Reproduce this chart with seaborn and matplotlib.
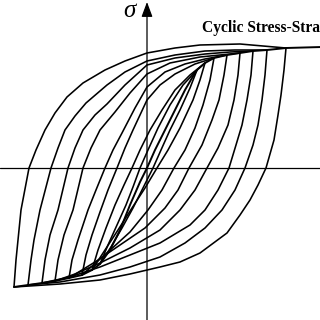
import matplotlib
matplotlib.use("Agg")
import matplotlib.pyplot as plt
import seaborn as sns
import pandas as pd

# ---- data (strain x, stress y), origin at axis crossing ----
L1_up_x = [-133, -131, -129, -126, -118, -111, -102, -92, -80, -64, -42, -22, 0, 28, 53, 93, 139]
L1_up_y = [-119, -92, -72, -42, 0, 18, 38, 55, 71, 85, 98, 107, 115, 120, 123, 124, 120]
L1_dn_x = [139, 137, 134, 131, 127, 119, 111, 103, 93, 80, 53, 33, 13, -17, -47, -87, -133]
L1_dn_y = [120, 98, 73, 53, 28, 0, -17, -32, -47, -65, -85, -94, -99, -106, -112, -116, -119]

L2_up_x = [-119, -116, -113, -107, -96, -89, -82, -72, -61, -40, -22, 0, 28, 58, 88, 120]
L2_up_y = [-117, -92, -72, -42, 0, 20, 38, 52, 65, 83, 96, 107, 113, 117, 118, 118]
L2_dn_x = [120, 118, 115, 111, 106, 98, 88, 75, 58, 38, 13, -17, -47, -87, -119]
L2_dn_y = [118, 93, 68, 43, 23, 0, -22, -42, -60, -75, -89, -99, -107, -114, -117]

L3_up_x = [-105, -102, -97, -89, -79, -72, -64, -52, -40, -22, 0, 28, 58, 83, 106]
L3_up_y = [-115, -92, -67, -42, 0, 20, 38, 53, 64, 83, 103, 110, 114, 116, 117]
L3_dn_x = [106, 104, 100, 95, 89, 82, 71, 58, 43, 13, -17, -47, -77, -105]
L3_dn_y = [117, 93, 68, 43, 23, 0, -22, -42, -57, -75, -87, -99, -109, -115]

L4_up_x = [-92, -89, -83, -74, -64, -56, -47, -32, -17, 0, 23, 53, 73, 93]
L4_up_y = [-113, -92, -67, -42, 0, 20, 38, 56, 75, 94, 105, 111, 113, 115]
L4_dn_x = [93, 91, 87, 81, 71, 60, 48, 33, 13, -17, -47, -72, -92]
L4_dn_y = [115, 93, 68, 43, 20, 0, -22, -42, -62, -80, -95, -106, -113]

L5_up_x = [-78, -75, -69, -59, -51, -42, -34, -25, -12, 0, 18, 38, 58, 80]
L5_up_y = [-110, -92, -72, -42, -22, 0, 18, 35, 60, 81, 96, 104, 109, 113]
L5_dn_x = [80, 77, 72, 65, 55, 42, 31, 18, -2, -27, -52, -78]
L5_dn_y = [113, 93, 68, 48, 23, 0, -22, -40, -60, -77, -94, -110]

L6_up_x = [-65, -61, -55, -47, -39, -30, -22, -14, 0, 13, 28, 48, 67]
L6_up_y = [-107, -87, -67, -44, -22, 0, 20, 38, 68, 83, 94, 104, 110]
L6_dn_x = [67, 63, 56, 48, 38, 27, 15, 1, -17, -39, -65]
L6_dn_y = [110, 88, 63, 40, 18, 0, -22, -42, -64, -84, -107]

L7_up_x = [-55, -49, -41, -32, -23, -15, -7, 3, 15, 28, 43, 58]
L7_up_y = [-102, -82, -60, -37, -17, 0, 18, 38, 58, 78, 93, 105]
L7_dn_x = [58, 53, 46, 33, 21, 10, -2, -15, -29, -42, -55]
L7_dn_y = [105, 88, 68, 40, 18, 0, -20, -40, -62, -82, -102]

L8_up_x = [-47, -39, -30, -21, -14, -7, 1, 11, 23, 36, 50]
L8_up_y = [-96, -77, -57, -37, -19, 0, 18, 40, 63, 83, 98]
L8_dn_x = [50, 43, 33, 23, 14, 6, -4, -14, -25, -36, -47]
L8_dn_y = [98, 80, 58, 38, 18, 0, -20, -40, -60, -79, -96]

cyc_x = [-133, -119, -105, -92, -78, -65, -55, -47, -37, -27, -17, -7, 0, 8, 18, 28,
         38, 45, 50, 58, 67, 80, 93, 106, 120, 139, 175]
cyc_y = [-119, -117, -115, -113, -110, -107, -102, -96, -82, -62, -37, -14, 0, 18, 38, 58,
         78, 90, 98, 105, 110, 113, 115, 117, 118, 120, 121]

branches = [
    (L1_up_x, L1_up_y), (L1_dn_x, L1_dn_y),
    (L2_up_x, L2_up_y), (L2_dn_x, L2_dn_y),
    (L3_up_x, L3_up_y), (L3_dn_x, L3_dn_y),
    (L4_up_x, L4_up_y), (L4_dn_x, L4_dn_y),
    (L5_up_x, L5_up_y), (L5_dn_x, L5_dn_y),
    (L6_up_x, L6_up_y), (L6_dn_x, L6_dn_y),
    (L7_up_x, L7_up_y), (L7_dn_x, L7_dn_y),
    (L8_up_x, L8_up_y), (L8_dn_x, L8_dn_y),
]

label_text = "Cyclic Stress-Strain Curve"
axis_label = "\u03c3"

sns.set_theme(style="white")
plt.rcParams["font.family"] = ["Liberation Serif", "DejaVu Serif"]

fig = plt.figure(figsize=(3.2, 3.2), dpi=100)
ax = fig.add_axes([0, 0, 1, 1])
ax.set_xlim(-147, 173)
ax.set_ylim(-152, 168)
ax.axis("off")

for bx, by in branches:
    df = pd.DataFrame({"x": bx, "y": by})
    sns.lineplot(data=df, x="x", y="y", sort=False, estimator=None, ax=ax,
                 color="black", linewidth=1.15, solid_joinstyle="round")

dfc = pd.DataFrame({"x": cyc_x, "y": cyc_y})
sns.lineplot(data=dfc, x="x", y="y", sort=False, estimator=None, ax=ax,
             color="black", linewidth=1.4, solid_joinstyle="round")

# axes
ax.axhline(0, color="black", linewidth=0.9)
ax.annotate("", xy=(0, 166), xytext=(0, -152),
            arrowprops=dict(arrowstyle="-|>,head_length=0.75,head_width=0.28",
                            color="black", linewidth=0.9, shrinkA=0, shrinkB=0))

ax.text(-18, 157, axis_label, fontsize=18, style="italic", ha="center", va="center",
        color="black")
ax.text(55, 136, label_text, fontsize=11.2, fontweight="bold", ha="left",
        va="baseline", color="black")

fig.savefig("out.png", dpi=100, facecolor="white")
